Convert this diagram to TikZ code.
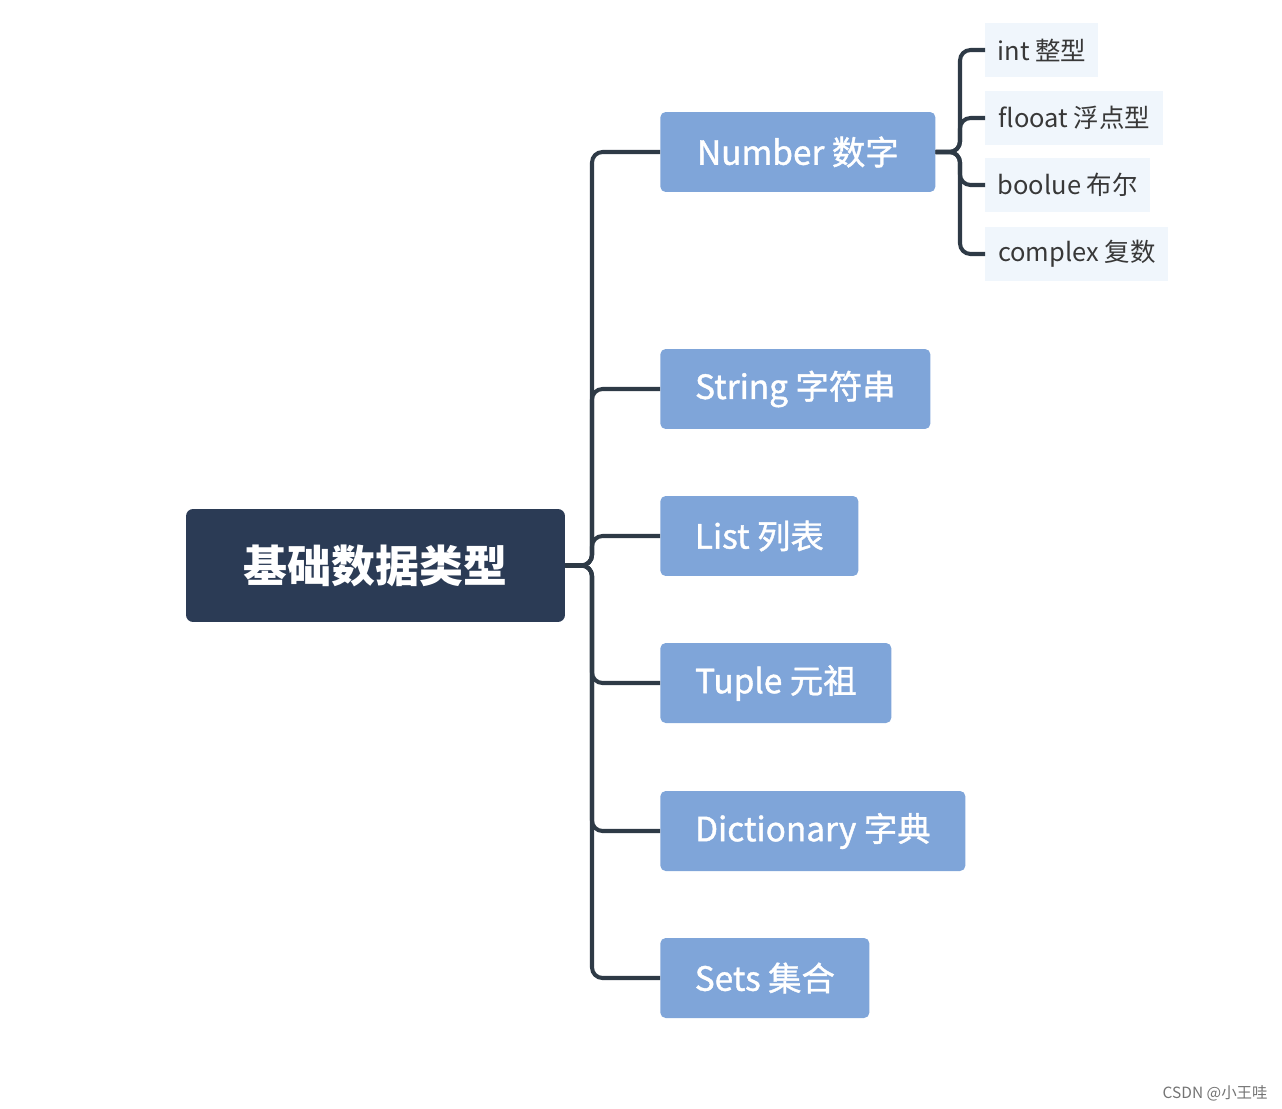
\documentclass[tikz,border=0pt]{standalone}
\usepackage{fontspec}
\setmainfont{Noto Sans CJK SC}
\newfontfamily\kidfont[FakeBold=1.2]{Noto Sans CJK SC}
\usetikzlibrary{positioning}
\definecolor{rootblue}{HTML}{2B3B55}
\definecolor{kidblue}{HTML}{7FA5D9}
\definecolor{leafblue}{HTML}{F0F6FC}
\definecolor{linkgray}{HTML}{2E3A46}
\tikzset{
  rootbox/.style={fill=rootblue,rounded corners=4pt,text=white,
    font=\fontsize{25}{30}\selectfont\bfseries,
    minimum width=7.58cm,minimum height=2.26cm},
  kidbox/.style={fill=kidblue,rounded corners=3pt,text=white,
    font=\kidfont\fontsize{19}{23}\selectfont,minimum height=1.6cm,anchor=west},
  leafbox/.style={fill=leafblue,text=black!78,
    font=\fontsize{14.5}{18}\selectfont,minimum height=1.1cm,anchor=west},
  link/.style={draw=linkgray,line width=2.3pt,rounded corners=6pt},
}

\begin{document}
\begin{tikzpicture}[x=0.02cm,y=-0.02cm]
  \useasboundingbox (0,0) rectangle (1282,1109);
  % root
  \node[rootbox] (root) at (375.5,565.5) {基础数据类型};
  \coordinate (trunk) at (592,565.5);
  % second level
  \foreach \y/\w/\name/\txt in {152/275/num/Number 数字, 389/270/str/String 字符串,
      536/198/lst/List 列表, 683/231/tpl/Tuple 元祖,
      831/305/dict/Dictionary 字典, 978/209/sets/Sets 集合} {
    \node[kidbox,minimum width=\w*0.02cm] (\name) at (660,\y) {\txt};
    \draw[link] (root.east) -- (trunk) |- (\name.west);
  }
  % number leaves
  \coordinate (brace) at (960,152);
  \foreach \y/\w/\name/\txt in {50/113/int/int 整型, 118/178/flt/flooat 浮点型,
      185/165/bool/boolue 布尔, 254/183/cpx/complex 复数} {
    \node[leafbox,minimum width=\w*0.02cm] (\name) at (985,\y) {\txt};
    \draw[link] (num.east) -- (brace) |- (\name.west);
  }
  \node[font=\fontsize{8.8}{10}\selectfont,text=black!55,anchor=east,inner sep=0pt] (mark)
    at (1268,1093) {CSDN @小王哇};
\end{tikzpicture}
\end{document}
